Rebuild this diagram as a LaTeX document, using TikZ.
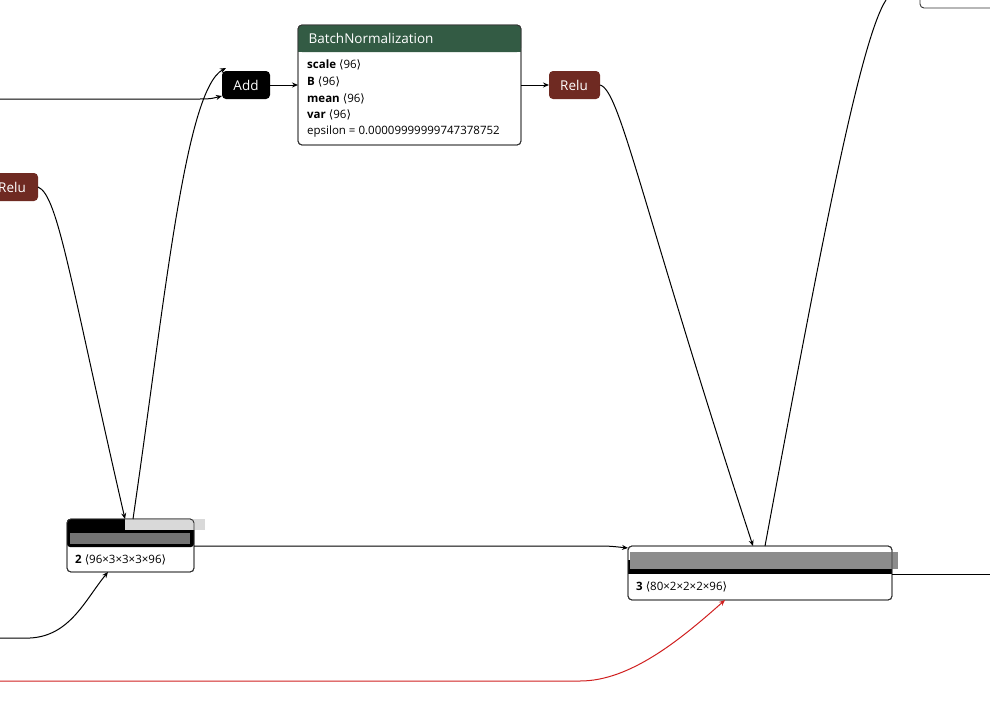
\documentclass[tikz,border=0pt]{standalone}
\usepackage{fontspec}
\setmainfont{Open Sans}
\newfontfamily\dvs{DejaVu Sans}
\newcommand{\lang}{{\dvs ⟨}}
\newcommand{\rang}{{\dvs ⟩}}
\usetikzlibrary{arrows.meta}
\definecolor{bngreen}{HTML}{335B44}
\definecolor{relured}{HTML}{6F2A22}
\definecolor{edgered}{HTML}{D02020}
\tikzset{
  x=1pt,y=-1pt,
  edge/.style={draw=black,line width=1pt,-{Stealth[length=6pt,width=5pt]}},
  plain/.style={draw=black,line width=1pt},
  opbox/.style={rounded corners=4pt,draw=black!80,line width=0.9pt},
  lbl/.style={font=\fontsize{13.5}{15}\selectfont,text=white},
  attr/.style={font=\fontsize{11.5}{13}\selectfont,anchor=west,inner sep=0pt},
}
\begin{document}
\begin{tikzpicture}
\useasboundingbox (0,0) rectangle (990,712);
% Add
\fill[black,rounded corners=4pt] (222,71) rectangle (270,99);
\node[lbl] (add) at (246,85) {Add};
\coordinate (addW) at (222,85);
\coordinate (addE) at (270,85);
% BatchNormalization
\draw[opbox,fill=white] (298,25) rectangle (521,145);
\fill[bngreen,rounded corners=4pt] (298,25) rectangle (521,52);
\fill[bngreen] (298,40) rectangle (521,52);
\draw[opbox] (298,25) rectangle (521,145);
\node[lbl,anchor=west] (bnt) at (305,38) {BatchNormalization};
\node[attr] at (307,65) {\textbf{scale} \lang96\rang};
\node[attr] at (307,82) {\textbf{B} \lang96\rang};
\node[attr] at (307,99) {\textbf{mean} \lang96\rang};
\node[attr] at (307,115) {\textbf{var} \lang96\rang};
\node[attr] at (307,132) {epsilon = 0.00009999999747378752};
\coordinate (bnW) at (298,85);
\coordinate (bnE) at (521,85);
% Relu right
\fill[relured,rounded corners=4pt] (549,71) rectangle (600,99);
\node[lbl] (relu2) at (574,85) {Relu};
% Relu left
\fill[relured,rounded corners=4pt] (-20,173) rectangle (38,201);
\node[lbl] (relu1) at (12,187) {Relu};
% top right node
\draw[opbox,fill=white] (920,-20) rectangle (1000,8);
% Node 2
\draw[opbox,fill=white] (67,519) rectangle (194,572);
\fill[black,rounded corners=3pt] (67,519) rectangle (194,547);
\fill[black!55] (70,533) rectangle (190,544);
\fill[black!15] (125,519) rectangle (205,530);
\draw[opbox] (67,519) rectangle (194,572);
\node[attr] (n2) at (75,560) {\textbf{2} \lang96×3×3×3×96\rang};
% Node 3
\draw[opbox,fill=white] (628,546) rectangle (892,600);
\fill[black] (628,560) rectangle (892,574);
\fill[black!45] (630,552) rectangle (898,569);
\draw[opbox] (628,546) rectangle (892,600);
\node[attr] (n3) at (636,587) {\textbf{3} \lang80×2×2×2×96\rang};
% edges
\draw[edge] (0,99) -- (200,99) .. controls (212,99) and (214,98) .. (222,96);
\draw[edge] (133,519) .. controls (165,300) and (185,90) .. (226,68);
\draw[edge] (addE) -- (bnW);
\draw[edge] (bnE) -- (549,85);
\draw[edge] (600,85) .. controls (620,90) and (640,200) .. (753,546);
\draw[edge] (38,187) .. controls (58,195) and (70,280) .. (125,519);
\draw[edge] (194,546) -- (600,546) .. controls (612,546) and (618,547) .. (628,548);
\draw[plain] (765,546) .. controls (820,250) and (860,40) .. (886,0);
\draw[plain] (892,574) -- (990,574);
\draw[edge] (0,638) -- (30,638) .. controls (70,636) and (85,600) .. (108,572);
\draw[edgered,line width=1pt,-{Stealth[length=6pt,width=5pt]}] (0,681) -- (580,681) .. controls (630,681) and (680,640) .. (725,600);
\end{tikzpicture}
\end{document}
